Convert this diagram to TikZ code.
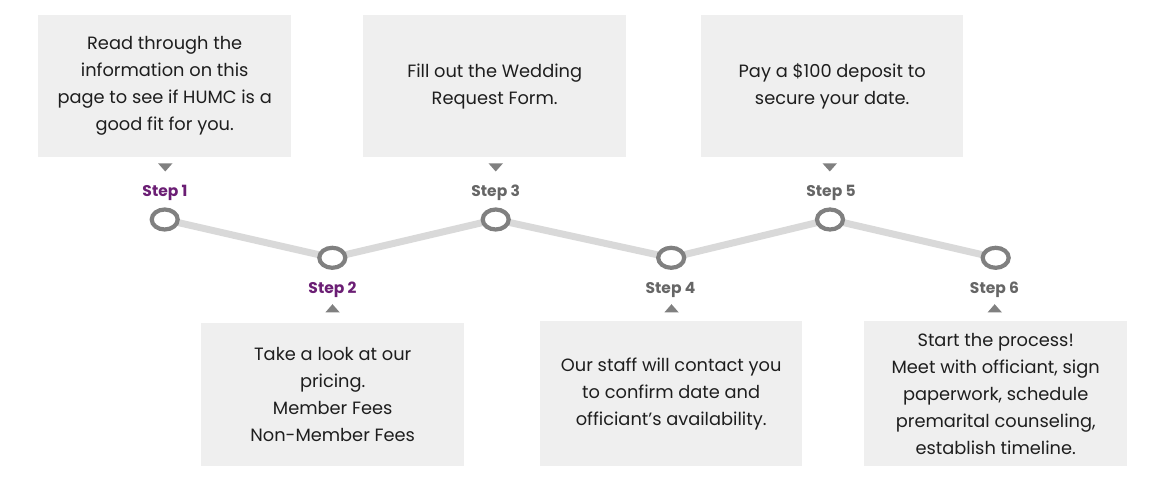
\documentclass[tikz,border=0pt]{standalone}
\usepackage{fontspec}
\setmainfont{Poppins}
\usetikzlibrary{shapes.geometric}
\definecolor{boxfill}{HTML}{EFEFEF}
\definecolor{txt}{HTML}{1E1E1E}
\definecolor{purp}{HTML}{6B1E74}
\definecolor{lab}{HTML}{666666}
\definecolor{ring}{HTML}{808080}
\definecolor{track}{HTML}{D9D9D9}
\begin{document}
\begin{tikzpicture}[x=1pt,y=-1pt,
  infobox/.style={fill=boxfill, draw=none, anchor=north west, inner sep=0pt,
    minimum height=142pt, align=center, text=txt,
    font=\fontsize{17.8}{27}\selectfont},
  stepring/.style={ellipse, draw=ring, fill=white, line width=4.2pt,
    minimum width=26pt, minimum height=20pt, inner sep=0pt},
  steplabel/.style={font=\fontsize{15.5}{17}\selectfont\bfseries, text=lab, inner sep=0pt, anchor=base},
  tri/.style={fill=ring, draw=none},
  trackline/.style={draw=track, line width=7pt}
]
\useasboundingbox (0,0) rectangle (1163,478);

% boxes
\node[infobox, minimum width=253pt] (b1) at (38,15) {Read through the\\information on this\\page to see if HUMC is a\\good fit for you.};
\node[infobox, minimum width=263pt] (b3) at (363,15) {Fill out the Wedding\\Request Form.};
\node[infobox, minimum width=262pt] (b5) at (701,15) {Pay a \$100 deposit to\\secure your date.};
\node[infobox, minimum width=263pt, minimum height=143pt] (b2) at (201,323) {Take a look at our\\pricing.\\Member Fees\\Non-Member Fees};
\node[infobox, minimum width=262pt, minimum height=145pt] (b4) at (540,321) {Our staff will contact you\\to confirm date and\\officiant’s availability.};
\node[infobox, minimum width=263pt, minimum height=145pt] (b6) at (864,321) {Start the process!\\Meet with officiant, sign\\paperwork, schedule\\premarital counseling,\\establish timeline.};

% rings (positions)
\coordinate (p1) at (164.7,219.5);
\coordinate (p2) at (332.3,257.8);
\coordinate (p3) at (495.7,219.5);
\coordinate (p4) at (671.2,257.8);
\coordinate (p5) at (830,219.5);
\coordinate (p6) at (995.7,257.8);

\draw[trackline] (p1) -- (p2) -- (p3) -- (p4) -- (p5) -- (p6);

\node[stepring] (c1) at (p1) {};
\node[stepring] (c2) at (p2) {};
\node[stepring] (c3) at (p3) {};
\node[stepring] (c4) at (p4) {};
\node[stepring] (c5) at (p5) {};
\node[stepring] (c6) at (p6) {};

% labels
\node[steplabel, text=purp] (l1) at (165,196.5) {Step 1};
\node[steplabel, text=purp] (l2) at (332.5,293.5) {Step 2};
\node[steplabel] (l3) at (495.7,196.5) {Step 3};
\node[steplabel] (l4) at (670.5,293.5) {Step 4};
\node[steplabel] (l5) at (831,196.5) {Step 5};
\node[steplabel] (l6) at (994.5,293.5) {Step 6};

% triangles
\fill[tri] (158,163.3) -- (172.5,163.3) -- (165.3,171.5) -- cycle;
\fill[tri] (488.5,163.3) -- (503,163.3) -- (495.7,171.5) -- cycle;
\fill[tri] (822.5,163.3) -- (837,163.3) -- (829.8,171.5) -- cycle;
\fill[tri] (325.3,312.5) -- (339.8,312.5) -- (332.5,304.2) -- cycle;
\fill[tri] (664.3,312.5) -- (678.8,312.5) -- (671.5,304.2) -- cycle;
\fill[tri] (987.5,312.5) -- (1002,312.5) -- (994.7,304.2) -- cycle;
\end{tikzpicture}
\end{document}
